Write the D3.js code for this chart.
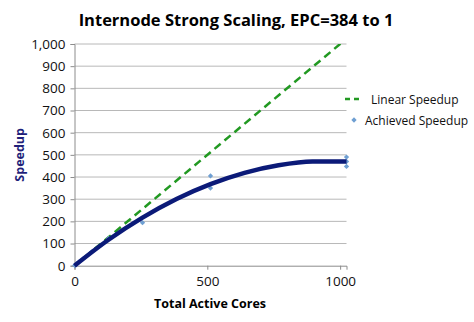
<!DOCTYPE html>
<html>
<head>
<meta charset="utf-8">
<script src="https://cdn.jsdelivr.net/npm/d3@7/dist/d3.min.js"></script>
<style>
  html, body { margin: 0; padding: 0; background: #fff; }
  svg { display: block; font-family: "Open Sans", Lato, sans-serif; }
</style>
</head>
<body>
<svg id="chart" width="474" height="322"></svg>
<script>
// Core counts and the ideal (linear) speedup
const linearCores = [1, 2, 4, 8, 16, 32, 64, 128, 256, 512, 1024];
const linearSpeedup = [1, 2, 4, 8, 16, 32, 64, 128, 256, 512, 1024];

// Measured speedup runs
const achievedCores = [1, 2, 4, 8, 16, 32, 64, 128, 256, 512, 512, 1024, 1024, 1024];
const achievedSpeedup = [1, 2, 4, 8, 16, 31, 62, 123, 194, 405, 350, 490, 470, 448];

// Fitted trend through the measured speedup
const trendCores = [0, 128, 256, 384, 512, 640, 768, 896, 1024];
const trendSpeedup = [0, 117, 217, 301, 368, 419, 453, 470, 470];

// Axis ticks
const xTicks = [0, 500, 1000];
const yTicks = [0, 100, 200, 300, 400, 500, 600, 700, 800, 900, 1000];

const svg = d3.select("#chart");

const x = d3.scaleLinear().domain([0, 1024]).range([74.5, 346.5]);
const y = d3.scaleLinear().domain([0, 1000]).range([265.7, 44]);

// Title
svg.append("text")
  .attr("x", 236).attr("y", 26)
  .attr("text-anchor", "middle")
  .attr("font-weight", "bold")
  .attr("font-size", 16.5)
  .attr("fill", "#000")
  .text("Internode Strong Scaling, EPC=384 to 1");

// Horizontal gridlines
svg.append("g")
  .selectAll("line")
  .data(yTicks.filter(d => d > 0))
  .join("line")
  .attr("x1", x(0)).attr("x2", x(1024))
  .attr("y1", d => y(d)).attr("y2", d => y(d))
  .attr("stroke", "#b8b8b8").attr("stroke-width", 1);

// Y axis
const yAxis = svg.append("g")
  .attr("transform", `translate(${x(0)},0)`)
  .call(d3.axisLeft(y).tickValues(yTicks).tickSize(4).tickPadding(5)
    .tickFormat(d3.format(",")));
yAxis.select(".domain").attr("stroke", "#8c8c8c");
yAxis.selectAll(".tick line").attr("stroke", "#8c8c8c");
yAxis.selectAll("text").attr("font-size", 13.5).attr("fill", "#111")
  .attr("font-family", "\"Open Sans\", Lato, sans-serif");

// X axis
const xAxis = svg.append("g")
  .attr("transform", `translate(0,${y(0)})`)
  .call(d3.axisBottom(x).tickValues(xTicks).tickSize(4).tickPadding(7)
    .tickFormat(d3.format("d")));
xAxis.select(".domain").attr("stroke", "#8c8c8c");
xAxis.selectAll(".tick line").attr("stroke", "#8c8c8c");
xAxis.selectAll("text").attr("font-size", 13.5).attr("fill", "#111")
  .attr("font-family", "\"Open Sans\", Lato, sans-serif");

// Axis titles
svg.append("text")
  .attr("x", 210).attr("y", 308)
  .attr("text-anchor", "middle")
  .attr("font-weight", "bold").attr("font-size", 12.5)
  .attr("fill", "#000")
  .text("Total Active Cores");

svg.append("text")
  .attr("transform", `translate(24,${(y(0) + y(1000)) / 2}) rotate(-90)`)
  .attr("text-anchor", "middle")
  .attr("font-weight", "bold").attr("font-size", 12.5)
  .attr("fill", "#1f1f7a")
  .text("Speedup");

// Clip to the plotting area
svg.append("clipPath").attr("id", "plot-clip")
  .append("rect")
  .attr("x", x(0)).attr("y", y(1000))
  .attr("width", x(1024) - x(0) + 4).attr("height", y(0) - y(1000));

const plot = svg.append("g").attr("clip-path", "url(#plot-clip)");

// Linear speedup (dashed)
const linearLine = d3.line().x((d, i) => x(linearCores[i])).y(d => y(d));
plot.append("path")
  .attr("d", linearLine(linearSpeedup))
  .attr("fill", "none")
  .attr("stroke", "#229922")
  .attr("stroke-width", 2.5)
  .attr("stroke-dasharray", "8,5");

// Achieved speedup markers (square diamonds)
const marker = d3.symbol().type(d3.symbolSquare).size(14);
svg.append("g")
  .selectAll("path")
  .data(achievedSpeedup)
  .join("path")
  .attr("d", marker)
  .attr("transform", (d, i) => `translate(${x(achievedCores[i])},${y(d)}) rotate(45)`)
  .attr("fill", "#6f9fd2");

// Trend line over the markers
const trendLine = d3.line()
  .x((d, i) => x(trendCores[i])).y(d => y(d))
  .curve(d3.curveMonotoneX);
svg.append("path")
  .attr("d", trendLine(trendSpeedup))
  .attr("fill", "none")
  .attr("stroke", "#0b1a78")
  .attr("stroke-width", 4.5)
  .attr("stroke-linecap", "butt");

// Legend
const legend = svg.append("g");
legend.append("line")
  .attr("x1", 345).attr("x2", 359).attr("y1", 99).attr("y2", 99)
  .attr("stroke", "#229922").attr("stroke-width", 2.5)
  .attr("stroke-dasharray", "5,4");
legend.append("text")
  .attr("x", 371).attr("y", 103.5)
  .attr("font-size", 12).attr("fill", "#111")
  .text("Linear Speedup");
legend.append("path")
  .attr("d", marker)
  .attr("transform", "translate(354,120) rotate(45)")
  .attr("fill", "#6f9fd2");
legend.append("text")
  .attr("x", 365).attr("y", 125)
  .attr("font-size", 12).attr("fill", "#111")
  .text("Achieved Speedup");
</script>
</body>
</html>
